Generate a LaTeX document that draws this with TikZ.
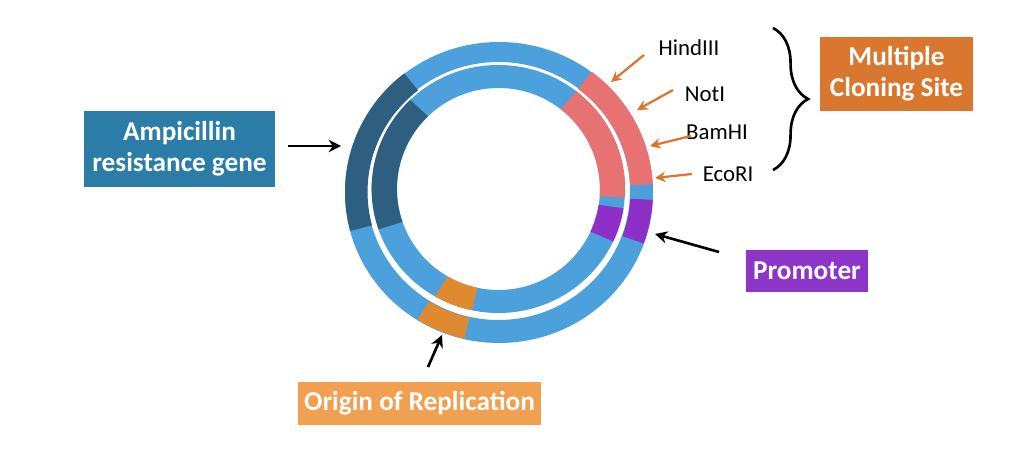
\documentclass[tikz,border=0pt]{standalone}
\usepackage{fontspec}
\setmainfont{Carlito}
\usetikzlibrary{decorations.pathreplacing,arrows.meta}
\definecolor{rblue}{RGB}{76,160,220}
\definecolor{rdark}{RGB}{47,95,128}
\definecolor{rpink}{RGB}{232,114,114}
\definecolor{rpurp}{RGB}{142,47,200}
\definecolor{rorg}{RGB}{224,138,48}
\definecolor{bteal}{RGB}{43,125,168}
\definecolor{borg}{RGB}{217,119,46}
\definecolor{bpurp}{RGB}{142,53,201}
\definecolor{blorg}{RGB}{240,160,80}
\newcommand{\rseg}[9]{% cx cy rxo ryo rxi ryi a1 a2 color (same centre)
  \fill[#9] ({#1+#3*cos(#7)},{#2+#4*sin(#7)}) arc[start angle=#7,end angle=#8,x radius=#3,y radius=#4]
    -- ({#1+#5*cos(#8)},{#2+#6*sin(#8)}) arc[start angle=#8,end angle=#7,x radius=#5,y radius=#6] -- cycle;}
\tikzset{
  box/.style={text=white,font=\bfseries\fontsize{15.5}{17.5}\selectfont,align=center,inner sep=0pt},
  lab/.style={font=\fontsize{13}{15}\selectfont},
  oarr/.style={draw=borg,line width=1.3pt,-{Stealth[length=6pt,width=6pt]}},
  karr/.style={draw=black,line width=1.5pt,-{Stealth[length=7pt,width=7pt]}}
}
\begin{document}
\begin{tikzpicture}[x=0.02cm,y=0.02cm]
\useasboundingbox (0,0) rectangle (1024,466);
\fill[rblue,even odd rule] (499,273.5) ellipse [x radius=154,y radius=150.5] (498.5,275) ellipse [x radius=131.5,y radius=129];
\fill[rblue,even odd rule] (498.3,277) ellipse [x radius=126.7,y radius=124] (498.5,277) ellipse [x radius=101.5,y radius=101];
\rseg{499}{274}{154}{150.5}{131.5}{129}{128}{195}{rdark}
\rseg{499}{274}{154}{150.5}{131.5}{129}{3}{53}{rpink}
\rseg{499}{274}{154}{150.5}{131.5}{129}{-20}{-3}{rpurp}
\rseg{499}{274}{154}{150.5}{131.5}{129}{238}{257}{rorg}
\rseg{498.4}{277}{126.7}{124}{101.5}{101}{134}{199}{rdark}
\rseg{498.4}{277}{126.7}{124}{101.5}{101}{-4}{52}{rpink}
\rseg{498.4}{277}{126.7}{124}{101.5}{101}{-25}{-9}{rpurp}
\rseg{498.4}{277}{126.7}{124}{101.5}{101}{240}{258}{rorg}
\node[box,fill=bteal,minimum width=191*0.02cm,minimum height=76*0.02cm] (amp) at (179.5,317) {Ampicillin\\resistance gene};
\node[box,fill=borg,minimum width=153*0.02cm,minimum height=74*0.02cm] (mcs) at (896.5,392) {Multiple\\Cloning Site};
\node[box,fill=bpurp,minimum width=122*0.02cm,minimum height=42*0.02cm] (pro) at (807,195) {Promoter};
\node[box,fill=blorg,minimum width=243*0.02cm,minimum height=43*0.02cm] (ori) at (419.5,62.5) {Origin of Replication};
\node[lab] (hind) at (689,418) {HindIII};
\node[lab] (not) at (705,372) {NotI};
\node[lab] (bam) at (717,334) {BamHI};
\node[lab] (eco) at (728,292) {EcoRI};
\coordinate (hindt) at (611,384);
\coordinate (nott) at (637,356);
\coordinate (bamt) at (650,320);
\coordinate (ecot) at (655,288);
\draw[oarr] (644,411) -- (hindt);
\draw[oarr] (673,376) -- (nott);
\draw[oarr] (691,330) -- (bamt);
\draw[oarr] (692,292) -- (ecot);
\coordinate (bt) at (773,438);
\coordinate (bb) at (773,296);
\draw[line width=1.5pt,decorate,decoration={brace,amplitude=20pt}] (bt) -- (bb);
\coordinate (amps) at (288,320);
\coordinate (ampt) at (341,320);
\coordinate (pros) at (719,214);
\coordinate (prot) at (655,232);
\coordinate (oris) at (428,99);
\coordinate (orit) at (442,131);
\draw[karr] (amps) -- (ampt);
\draw[karr] (pros) -- (prot);
\draw[karr] (oris) -- (orit);
\end{tikzpicture}
\end{document}
